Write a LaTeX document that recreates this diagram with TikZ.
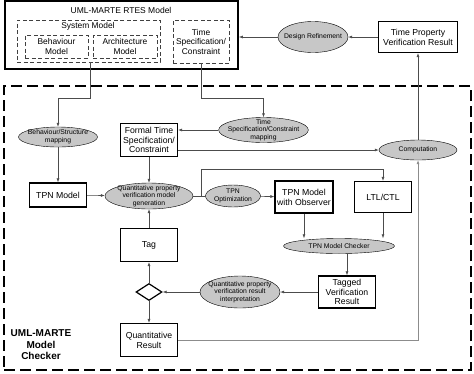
\documentclass[tikz,border=0pt]{standalone}
\usepackage{fontspec}
\setmainfont{Liberation Sans}
\usetikzlibrary{positioning,arrows.meta,shapes.geometric}

\begin{document}
\begin{tikzpicture}[x=1pt,y=-1pt,>={Latex[length=4pt,width=3pt]},
  box/.style={draw,line width=1.2pt,minimum width=57pt,align=center,inner sep=1pt,font=\fontsize{8.7}{9.8}\selectfont},
  proc/.style={ellipse,draw,fill=black!22,align=center,inner sep=-4pt,font=\fontsize{6.8}{7.6}\selectfont},
  dbox/.style={draw=black!75,dash pattern=on 4pt off 2.5pt,line width=0.9pt,align=center,inner sep=1pt,font=\fontsize{8.4}{9.5}\selectfont},
  link/.style={->,draw=black!70,line width=0.6pt}]
\useasboundingbox (0,0) rectangle (474,373);

% UML-MARTE model side
\node[draw,line width=1.6pt,minimum width=233pt,minimum height=68pt] (rtes) at (121.5,35) {};
\node[font=\fontsize{8.5}{9.5}\selectfont] (rtestitle) at (121,10) {UML-MARTE RTES Model};
\node[dbox,minimum width=143pt,minimum height=42pt] (sysm) at (88.5,41) {};
\node[font=\fontsize{8.4}{9.5}\selectfont] (sysmtitle) at (88,26.5) {System Model};
\node[dbox,minimum width=63pt,minimum height=23pt] (bm) at (56.5,46.5) {Behaviour\\Model};
\node[dbox,minimum width=64pt,minimum height=23pt] (am) at (125,46.5) {Architecture\\Model};
\node[dbox,minimum width=56pt,minimum height=43pt] (tsc) at (201,41.5) {Time\\Specification/\\Constraint};

\node[proc,inner sep=-6pt,minimum width=70pt,minimum height=31pt] (dr) at (313,37) {Design Refinement};
\node[box,minimum width=79pt,minimum height=31pt] (tpvr) at (418,37) {Time Property\\Verification Result};

% model checker
\node[draw,line width=2.2pt,dash pattern=on 11pt off 5pt,minimum width=467pt,minimum height=284pt] (checker) at (237.5,228) {};
\node[font=\bfseries\fontsize{10}{11.5}\selectfont,align=center] (checkertitle) at (41,345) {UML-MARTE\\Model\\Checker};

\node[proc,minimum width=79pt,minimum height=20pt] (bsm) at (58,137) {Behaviour/Structure\\mapping};
\node[box,minimum height=24pt] (tpn) at (58,195) {TPN Model};
\node[box,minimum height=33pt] (formal) at (149,140) {Formal Time\\Specification/\\Constraint};
\node[proc,minimum width=82pt,minimum height=25pt] (tscm) at (263.5,130) {Time\\Specification/Constraint\\mapping};
\node[proc,minimum width=78pt,minimum height=20pt] (comp) at (418,150) {Computation};
\node[proc,minimum width=88pt,minimum height=26pt] (qpvmg) at (149,196) {Quantitative property\\verification model\\generation};
\node[proc,minimum width=55pt,minimum height=22pt] (tpnopt) at (233,196) {TPN\\Optimization};
\node[box,minimum width=58pt,minimum height=32pt] (obs) at (304,197) {TPN Model\\with Observer};
\node[box,minimum height=31pt] (ltl) at (383,197) {LTL/CTL};
\node[proc,minimum width=111pt,minimum height=15pt] (tpnmc) at (339,246) {TPN Model Checker};
\node[box,minimum height=32pt] (tvr) at (347,292) {Tagged\\Verification\\Result};
\node[proc,minimum width=80pt,minimum height=32pt] (qpvri) at (240,292) {Quantitative property\\verification result\\interpretation};
\node[diamond,draw,line width=1.2pt,minimum width=26pt,minimum height=17pt,inner sep=0pt] (dec) at (149,292) {};
\node[box,minimum height=33pt] (tag) at (149,245) {Tag};
\node[box,minimum height=33pt] (qr) at (149,340) {Quantitative\\Result};

\draw[link] (tpvr) -- (dr);
\draw[link] (dr) -- (dr -| rtes.east);
\draw[link] ([xshift=1.5pt]sysm.south) -- ++(0,36) -| (bsm);
\draw[link] (tsc.south) -- ++(0,35) -| (tscm);
\draw[link] (tscm) -- (tscm -| formal.east);
\draw[link] (comp -| formal.east) -- (comp);
\draw[link] (comp) -- (tpvr);
\draw[link] (bsm) -- (tpn);
\draw[link] (formal) -- (qpvmg);
\draw[link] (tpn) -- (qpvmg);
\draw[link,-] (qpvmg) -- (tpnopt);
\draw[link] (qpvmg.east) -- ++(8,0) -- ++(0,-27) -| (ltl);
\draw[link] (tpnopt) -- (obs);
\draw[link] (obs) -- (obs |- tpnmc.north);
\draw[link] (ltl) -- (ltl |- tpnmc.north);
\draw[link] (tpnmc.south -| tvr) -- (tvr);
\draw[link] (tvr) -- (qpvri);
\draw[link] (qpvri) -- (dec);
\draw[link] (dec) -- (tag);
\draw[link] (tag) -- (qpvmg);
\draw[link] (dec) -- (qr);
\draw[link,draw=black!45] (qr) -| (comp);
\end{tikzpicture}
\end{document}
